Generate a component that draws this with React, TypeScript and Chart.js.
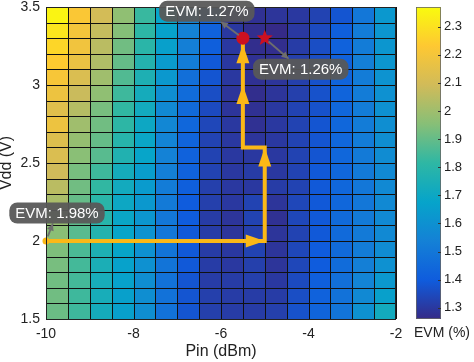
import React, { useEffect, useRef } from 'react';
import { Chart, registerables } from 'chart.js';

Chart.register(...registerables);

// ---------- data ----------
const pinEdges = [-10, -9.5, -9, -8.5, -8, -7.5, -7, -6.5, -6, -5.5, -5, -4.5, -4, -3.5, -3, -2.5, -2];
const vddEdges = [1.5, 1.6, 1.7, 1.8, 1.9, 2.0, 2.1, 2.2, 2.3, 2.4, 2.5, 2.6, 2.7, 2.8, 2.9, 3.0, 3.1, 3.2, 3.3, 3.4, 3.5];

// EVM (%) per cell: rows from Vdd 3.4–3.5 (top) down to 1.5–1.6 (bottom), columns by Pin from -10 dBm
const evm34 = [2.35, 2.22, 2.10, 1.97, 1.83, 1.68, 1.55, 1.43, 1.28, 1.28, 1.29, 1.30, 1.33, 1.38, 1.50, 1.63];
const evm33 = [2.31, 2.20, 2.07, 1.95, 1.81, 1.67, 1.54, 1.42, 1.30, 1.27, 1.26, 1.30, 1.35, 1.41, 1.52, 1.62];
const evm32 = [2.27, 2.19, 2.05, 1.92, 1.80, 1.66, 1.53, 1.41, 1.30, 1.27, 1.27, 1.31, 1.36, 1.42, 1.52, 1.62];
const evm31 = [2.24, 2.17, 2.03, 1.90, 1.78, 1.64, 1.52, 1.39, 1.30, 1.28, 1.28, 1.32, 1.36, 1.42, 1.53, 1.62];
const evm30 = [2.21, 2.12, 2.00, 1.87, 1.76, 1.63, 1.47, 1.38, 1.30, 1.28, 1.29, 1.32, 1.37, 1.43, 1.52, 1.61];
const evm29 = [2.18, 2.08, 1.97, 1.84, 1.73, 1.59, 1.46, 1.36, 1.29, 1.27, 1.29, 1.32, 1.37, 1.43, 1.52, 1.60];
const evm28 = [2.14, 2.04, 1.93, 1.82, 1.72, 1.57, 1.45, 1.35, 1.29, 1.28, 1.30, 1.33, 1.37, 1.44, 1.52, 1.60];
const evm27 = [2.18, 2.00, 1.92, 1.81, 1.70, 1.56, 1.44, 1.34, 1.30, 1.28, 1.30, 1.33, 1.38, 1.44, 1.52, 1.59];
const evm26 = [2.13, 1.98, 1.90, 1.79, 1.69, 1.55, 1.43, 1.33, 1.30, 1.29, 1.30, 1.33, 1.38, 1.44, 1.52, 1.59];
const evm25 = [2.12, 1.96, 1.88, 1.77, 1.68, 1.54, 1.42, 1.33, 1.30, 1.30, 1.30, 1.33, 1.38, 1.44, 1.51, 1.58];
const evm24 = [2.09, 1.93, 1.84, 1.73, 1.65, 1.53, 1.42, 1.33, 1.30, 1.31, 1.30, 1.33, 1.39, 1.44, 1.51, 1.57];
const evm23 = [2.05, 1.92, 1.82, 1.72, 1.64, 1.52, 1.41, 1.32, 1.30, 1.30, 1.31, 1.33, 1.39, 1.44, 1.50, 1.57];
const evm22 = [2.02, 1.90, 1.80, 1.70, 1.63, 1.51, 1.40, 1.32, 1.30, 1.33, 1.29, 1.34, 1.39, 1.44, 1.50, 1.57];
const evm21 = [1.98, 1.89, 1.79, 1.69, 1.62, 1.50, 1.40, 1.31, 1.29, 1.33, 1.28, 1.34, 1.39, 1.45, 1.51, 1.57];
const evm20 = [1.96, 1.88, 1.78, 1.68, 1.61, 1.50, 1.39, 1.31, 1.29, 1.32, 1.29, 1.33, 1.39, 1.45, 1.51, 1.57];
const evm19 = [1.94, 1.86, 1.76, 1.68, 1.60, 1.49, 1.39, 1.31, 1.30, 1.33, 1.29, 1.34, 1.40, 1.45, 1.52, 1.58];
const evm18 = [1.93, 1.85, 1.75, 1.67, 1.60, 1.49, 1.39, 1.31, 1.30, 1.32, 1.29, 1.34, 1.40, 1.46, 1.53, 1.60];
const evm17 = [1.92, 1.85, 1.74, 1.67, 1.59, 1.48, 1.38, 1.31, 1.31, 1.32, 1.30, 1.35, 1.41, 1.47, 1.55, 1.63];
const evm16 = [1.92, 1.84, 1.74, 1.66, 1.59, 1.48, 1.38, 1.32, 1.31, 1.31, 1.31, 1.36, 1.42, 1.48, 1.57, 1.66];
const evm15 = [1.91, 1.84, 1.73, 1.66, 1.59, 1.48, 1.38, 1.32, 1.31, 1.31, 1.32, 1.37, 1.43, 1.49, 1.60, 1.72];
const evmRows = [evm34, evm33, evm32, evm31, evm30, evm29, evm28, evm27, evm26, evm25,
  evm24, evm23, evm22, evm21, evm20, evm19, evm18, evm17, evm16, evm15];

const xTicks = [-10, -8, -6, -4, -2];
const yTicks = [1.5, 2, 2.5, 3, 3.5];
const cbTicks = [1.3, 1.4, 1.5, 1.6, 1.7, 1.8, 1.9, 2.0, 2.1, 2.2, 2.3];
const cbMin = 1.26;
const cbMax = 2.37;

// optimisation path (Pin, Vdd) and which segments end with an arrowhead
const pathPin = [-10, -5, -5, -5.5, -5.5, -5.5];
const pathVdd = [2.0, 2.0, 2.6, 2.6, 3.0, 3.3];
const pathHeads = [true, true, false, true, true];

// data tips
const tipPin = [-5.5, -5, -10];
const tipVdd = [3.3, 3.3, 2.0];
const tipEvm = [1.27, 1.26, 1.98];
const tipMarker = ['circle', 'star', 'none'];

// ---------- styles ----------
const FONT = '"Liberation Sans", Arial, Helvetica, sans-serif';
const GOLD = '#fbb817';
const RED = '#cc1020';
const TIP_BG = 'rgba(88,88,88,0.95)';
const TIP_DX = [-36, 36, 11];
const TIP_DY = [-27, 31, -28];
const PARULA = ['#352a87', '#0f5cdd', '#1481d6', '#06a4ca', '#2eb7a4', '#87bf77', '#d1bb59', '#fec832', '#f9fb0e'];

function hexToRgb(h: string) {
  return [parseInt(h.slice(1, 3), 16), parseInt(h.slice(3, 5), 16), parseInt(h.slice(5, 7), 16)];
}
const PARULA_RGB = PARULA.map(hexToRgb);

function parula(v: number) {
  let t = (v - cbMin) / (cbMax - cbMin);
  t = Math.max(0, Math.min(1, t));
  const n = PARULA_RGB.length - 1;
  const i = Math.min(n - 1, Math.floor(t * n));
  const f = t * n - i;
  const a = PARULA_RGB[i], b = PARULA_RGB[i + 1];
  const c = a.map((av, k) => Math.round(av + (b[k] - av) * f));
  return `rgb(${c[0]},${c[1]},${c[2]})`;
}

const heatmapPlugin = {
  id: 'heatmap',
  beforeDatasetsDraw(chart: any) {
    const { ctx, scales, chartArea } = chart;
    const x = scales.x, y = scales.y;
    const nRows = evmRows.length;
    ctx.save();
    for (let r = 0; r < nRows; r++) {
      const lo = vddEdges[nRows - 1 - r];
      const hi = vddEdges[nRows - r];
      const py0 = Math.round(y.getPixelForValue(hi));
      const py1 = Math.round(y.getPixelForValue(lo));
      const row = evmRows[r];
      for (let c = 0; c < row.length; c++) {
        const px0 = Math.round(x.getPixelForValue(pinEdges[c]));
        const px1 = Math.round(x.getPixelForValue(pinEdges[c + 1]));
        ctx.fillStyle = parula(row[c]);
        ctx.fillRect(px0, py0, px1 - px0, py1 - py0);
      }
    }
    ctx.strokeStyle = '#111';
    ctx.lineWidth = 1;
    ctx.beginPath();
    for (const p of pinEdges) {
      const px = Math.round(x.getPixelForValue(p)) + 0.5;
      ctx.moveTo(px, chartArea.top);
      ctx.lineTo(px, chartArea.bottom);
    }
    for (const v of vddEdges) {
      const py = Math.round(y.getPixelForValue(v)) + 0.5;
      ctx.moveTo(chartArea.left, py);
      ctx.lineTo(chartArea.right, py);
    }
    ctx.stroke();
    ctx.restore();
  },
};

function arrowHead(ctx: any, fx: number, fy: number, tx: number, ty: number, len: number, half: number, color: string) {
  const d = Math.hypot(tx - fx, ty - fy) || 1;
  const ux = (tx - fx) / d, uy = (ty - fy) / d;
  const bx = tx - ux * len, by = ty - uy * len;
  ctx.fillStyle = color;
  ctx.beginPath();
  ctx.moveTo(tx, ty);
  ctx.lineTo(bx - uy * half, by + ux * half);
  ctx.lineTo(bx + uy * half, by - ux * half);
  ctx.closePath();
  ctx.fill();
}

function star(ctx: any, cx: number, cy: number, ro: number, ri: number) {
  ctx.beginPath();
  for (let i = 0; i < 10; i++) {
    const r = i % 2 === 0 ? ro : ri;
    const a = -Math.PI / 2 + (i * Math.PI) / 5;
    const px = cx + r * Math.cos(a), py = cy + r * Math.sin(a);
    if (i === 0) ctx.moveTo(px, py); else ctx.lineTo(px, py);
  }
  ctx.closePath();
}

const overlayPlugin = {
  id: 'overlay',
  afterDatasetsDraw(chart: any) {
    const { ctx, scales, chartArea } = chart;
    const x = scales.x, y = scales.y;
    ctx.save();
    // arrowheads on the path
    for (let i = 0; i < pathHeads.length; i++) {
      if (!pathHeads[i]) continue;
      const fx = x.getPixelForValue(pathPin[i]), fy = y.getPixelForValue(pathVdd[i]);
      let tx = x.getPixelForValue(pathPin[i + 1]), ty = y.getPixelForValue(pathVdd[i + 1]);
      if (i === pathHeads.length - 1) {
        const d = Math.hypot(tx - fx, ty - fy);
        tx -= ((tx - fx) / d) * 6; ty -= ((ty - fy) / d) * 6;
      }
      arrowHead(ctx, fx, fy, tx, ty, 19, 6.5, GOLD);
    }
    // start dot
    ctx.fillStyle = GOLD;
    ctx.beginPath();
    ctx.arc(x.getPixelForValue(pathPin[0]), y.getPixelForValue(pathVdd[0]), 3.5, 0, Math.PI * 2);
    ctx.fill();

    // frame
    ctx.strokeStyle = '#222';
    ctx.lineWidth = 1;
    ctx.strokeRect(chartArea.left + 0.5, chartArea.top + 0.5, chartArea.right - chartArea.left - 1, chartArea.bottom - chartArea.top);

    // markers
    for (let i = 0; i < tipPin.length; i++) {
      const px = x.getPixelForValue(tipPin[i]), py = y.getPixelForValue(tipVdd[i]);
      ctx.fillStyle = RED;
      if (tipMarker[i] === 'circle') {
        ctx.beginPath(); ctx.arc(px, py, 6.5, 0, Math.PI * 2); ctx.fill();
      } else if (tipMarker[i] === 'star') {
        star(ctx, px, py, 8.5, 3.6); ctx.fill();
      }
    }
    ctx.restore();

    // data tips (drawn outside clip)
    ctx.save();
    ctx.font = `15px ${FONT}`;
    for (let i = 0; i < tipPin.length; i++) {
      const px = x.getPixelForValue(tipPin[i]), py = y.getPixelForValue(tipVdd[i]);
      const cx = px + TIP_DX[i], cy = py + TIP_DY[i];
      const text = `EVM: ${tipEvm[i].toFixed(2)}%`;
      const w = ctx.measureText(text).width + 12, h = 21;
      // connector arrow from point towards label
      const edgeY = cy > py ? cy - h / 2 : cy + h / 2;
      const t = (edgeY - py) / (cy - py);
      const ex = px + (cx - px) * t, ey = edgeY;
      const d = Math.hypot(ex - px, ey - py);
      const sx = px + ((ex - px) / d) * 5, sy = py + ((ey - py) / d) * 5;
      ctx.strokeStyle = '#6e6e6e';
      ctx.lineWidth = 1.8;
      ctx.beginPath(); ctx.moveTo(sx, sy); ctx.lineTo(ex, ey); ctx.stroke();
      arrowHead(ctx, sx, sy, ex, ey, 7, 3.5, '#6e6e6e');
      ctx.fillStyle = TIP_BG;
      ctx.beginPath();
      ctx.roundRect(cx - w / 2, cy - h / 2, w, h, 8);
      ctx.fill();
      ctx.fillStyle = '#fff';
      ctx.textAlign = 'center';
      ctx.textBaseline = 'middle';
      ctx.fillText(text, cx, cy + 1);
    }
    ctx.restore();
  },
  afterDraw(chart: any) {
    const { ctx, scales, chartArea } = chart;
    const cb = scales.cb;
    const left = chartArea.right + 20, right = chartArea.right + 45;
    const top = cb.getPixelForValue(cbMax), bottom = cb.getPixelForValue(cbMin);
    ctx.save();
    const g = ctx.createLinearGradient(0, bottom, 0, top);
    PARULA.forEach((c, i) => g.addColorStop(i / (PARULA.length - 1), c));
    ctx.fillStyle = g;
    ctx.fillRect(left, top, right - left, bottom - top);
    ctx.strokeStyle = '#666';
    ctx.lineWidth = 0.8;
    ctx.strokeRect(left + 0.5, top + 0.5, right - left - 1, bottom - top - 1);
    ctx.strokeStyle = '#333';
    ctx.lineWidth = 1;
    ctx.beginPath();
    for (const v of cbTicks) {
      const py = Math.round(cb.getPixelForValue(v)) + 0.5;
      ctx.moveTo(right - 3, py); ctx.lineTo(right, py);
    }
    ctx.stroke();
    ctx.fillStyle = '#222';
    ctx.font = `14px ${FONT}`;
    ctx.textAlign = 'left';
    ctx.textBaseline = 'middle';
    ctx.fillText('EVM (%)', left - 2, 333);
    ctx.restore();
  },
};

const fmt = (v: any) => String(Math.round(Number(v) * 10) / 10);

export default function App() {
  const ref = useRef<HTMLCanvasElement | null>(null);
  useEffect(() => {
    if (!ref.current) return;
    Chart.defaults.font.family = FONT;
    const chart = new Chart(ref.current, {
      type: 'scatter',
      data: {
        datasets: [
          {
            data: pathPin.map((p, i) => ({ x: p, y: pathVdd[i] })),
            showLine: true,
            borderColor: GOLD,
            borderWidth: 4,
            pointRadius: 0,
            tension: 0,
            borderJoinStyle: 'miter',
          } as any,
        ],
      },
      options: {
        responsive: false,
        animation: false,
        devicePixelRatio: 1,
        layout: { padding: { top: 7, left: 0, right: 0, bottom: 0 } },
        plugins: { legend: { display: false }, tooltip: { enabled: false } },
        scales: {
          x: {
            type: 'linear', position: 'bottom', min: -10, max: -2,
            grid: { display: false, drawTicks: false }, border: { display: false },
            ticks: { color: '#222', font: { size: 14 }, padding: 7, maxRotation: 0, callback: fmt },
            title: { display: true, text: 'Pin (dBm)', color: '#222', font: { size: 16 }, padding: { top: 0, bottom: 1 } },
            afterBuildTicks: (s: any) => { s.ticks = xTicks.map((v) => ({ value: v })); },
            afterFit: (s: any) => { s.height = 43; s.paddingLeft = 0; s.paddingRight = 0; },
          },
          y: {
            type: 'linear', position: 'left', min: 1.5, max: 3.5,
            grid: { display: false, drawTicks: false }, border: { display: false },
            ticks: { color: '#222', font: { size: 14 }, padding: 6, callback: fmt },
            title: { display: true, text: 'Vdd (V)', color: '#222', font: { size: 16 }, padding: { top: -3, bottom: 0 } },
            afterBuildTicks: (s: any) => { s.ticks = yTicks.map((v) => ({ value: v })); },
            afterFit: (s: any) => { s.width = 46; s.paddingTop = 0; s.paddingBottom = 0; },
          },
          cb: {
            type: 'linear', position: 'right', min: cbMin, max: cbMax,
            grid: { display: false, drawTicks: false }, border: { display: false },
            ticks: { color: '#222', font: { size: 13 }, padding: 48, callback: fmt },
            afterBuildTicks: (s: any) => { s.ticks = cbTicks.map((v) => ({ value: v })); },
            afterFit: (s: any) => { s.width = 78; s.paddingTop = 0; s.paddingBottom = 0; },
          },
        },
      } as any,
      plugins: [heatmapPlugin, overlayPlugin],
    });
    return () => chart.destroy();
  }, []);
  return (
    <div style={{ position: 'fixed', left: 0, top: 0, width: 474, height: 362, background: '#fff' }}>
      <canvas ref={ref} width={474} height={362} style={{ display: 'block' }} />
    </div>
  );
}
